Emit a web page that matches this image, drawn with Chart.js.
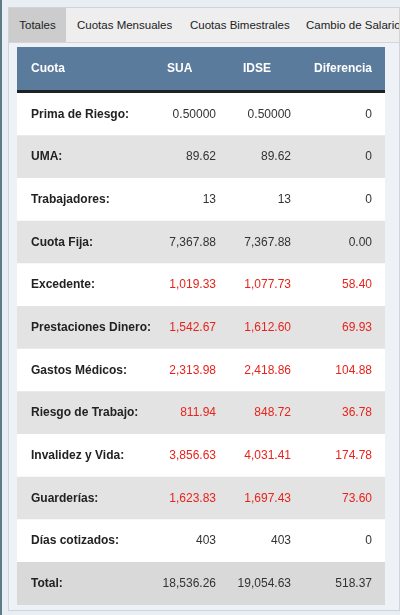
<!DOCTYPE html>
<html>
<head>
<meta charset="utf-8">
<script src="https://cdn.jsdelivr.net/npm/chart.js@4"></script>
<style>
  body { margin: 0; background: #e9eef4; font-family: "Liberation Sans", Arial, sans-serif; overflow: hidden; }
  #edge { position: absolute; left: 0; top: 0; width: 2px; height: 615px; background: #5d7a86; }
  #panel { position: absolute; left: 8px; top: 7px; width: 390px; height: 602px; background: #eef1f5; border: 1px solid #cfd4da; overflow: hidden; }
  #tabs { position: absolute; left: 0; top: 0; width: 390px; height: 34px; background: #eeeeee; border-bottom: 1px solid #d5d5d5; font-size: 11.5px; color: #222; }
  #tabs span { position: absolute; top: 0; line-height: 34px; white-space: nowrap; }
  #wrap { position: absolute; left: 17px; top: 47px; width: 368px; height: 558px; }
</style>
</head>
<body>
<div id="edge"></div>
<div id="panel">
  <div id="tabs">
    <span style="left:0;width:57px;background:#cccccc;text-align:center;">Totales</span>
    <span style="left:68px;">Cuotas Mensuales</span>
    <span style="left:181px;">Cuotas Bimestrales</span>
    <span style="left:297px;">Cambio de Salario</span>
  </div>
</div>
<div id="wrap"><canvas id="tabla" width="368" height="558" style="width:368px;height:558px;"></canvas></div>
<script>
var headers = ['Cuota', 'SUA', 'IDSE', 'Diferencia'];
var rows = ['Prima de Riesgo:', 'UMA:', 'Trabajadores:', 'Cuota Fija:', 'Excedente:', 'Prestaciones Dinero:',
    'Gastos Médicos:', 'Riesgo de Trabajo:', 'Invalidez y Vida:', 'Guarderías:', 'Días cotizados:', 'Total:'];
var sua = ['0.50000', '89.62', '13', '7,367.88', '1,019.33', '1,542.67', '2,313.98', '811.94', '3,856.63', '1,623.83', '403', '18,536.26'];
var idse = ['0.50000', '89.62', '13', '7,367.88', '1,077.73', '1,612.60', '2,418.86', '848.72', '4,031.41', '1,697.43', '403', '19,054.63'];
var diferencia = ['0', '0', '0', '0.00', '58.40', '69.93', '104.88', '36.78', '174.78', '73.60', '0', '518.37'];
var enRojo = [false, false, false, false, true, true, true, true, true, true, false, false];

// one full-width bar per row gives the row background
const rowFill = rows.map(() => 1);
const rowColors = rows.map((r, i) => i === rows.length - 1 ? '#d9d9d9' : (i % 2 ? '#e3e3e3' : '#ffffff'));

const tablePlugin = {
    id: 'tablePlugin',
    afterDatasetsDraw(chart) {
        const ctx = chart.ctx;
        const area = chart.chartArea;
        const yScale = chart.scales.y;
        const w = chart.width;

        // header
        ctx.save();
        ctx.fillStyle = '#5b7b9c';
        ctx.fillRect(0, 0, w, area.top - 3);
        ctx.fillStyle = '#1e2226';
        ctx.fillRect(0, area.top - 3, w, 3);
        ctx.font = 'bold 12px "Liberation Sans", Arial, sans-serif';
        ctx.fillStyle = '#ffffff';
        ctx.textBaseline = 'middle';
        const hy = (area.top - 3) / 2;
        ctx.textAlign = 'left';
        ctx.fillText(headers[0], 14, hy);
        ctx.fillText(headers[1], 150, hy);
        ctx.fillText(headers[2], 226, hy);
        ctx.textAlign = 'right';
        ctx.fillText(headers[3], 355, hy);

        rows.forEach(function (label, i) {
            const y = yScale.getPixelForValue(i);
            ctx.font = 'bold 12px "Liberation Sans", Arial, sans-serif';
            ctx.fillStyle = '#222222';
            ctx.textAlign = 'left';
            ctx.fillText(label, 14, y);
            ctx.font = '12px "Liberation Sans", Arial, sans-serif';
            ctx.fillStyle = enRojo[i] ? '#e8231c' : '#333333';
            ctx.textAlign = 'right';
            ctx.fillText(sua[i], 199, y);
            ctx.fillText(idse[i], 274, y);
            ctx.fillText(diferencia[i], 355, y);
        });
        ctx.restore();
    }
};

new Chart(document.getElementById('tabla').getContext('2d'), {
    type: 'bar',
    data: {
        labels: rows,
        datasets: [{
            data: rowFill,
            backgroundColor: rowColors,
            borderWidth: 0,
            barPercentage: 1,
            categoryPercentage: 1
        }]
    },
    options: {
        indexAxis: 'y',
        responsive: false,
        maintainAspectRatio: false,
        animation: false,
        layout: { padding: { top: 46, left: 0, right: 0, bottom: 0 } },
        plugins: { legend: { display: false }, tooltip: { enabled: false } },
        scales: {
            x: { display: false, min: 0, max: 1 },
            y: { display: false }
        }
    },
    plugins: [tablePlugin]
});
</script>
</body>
</html>
